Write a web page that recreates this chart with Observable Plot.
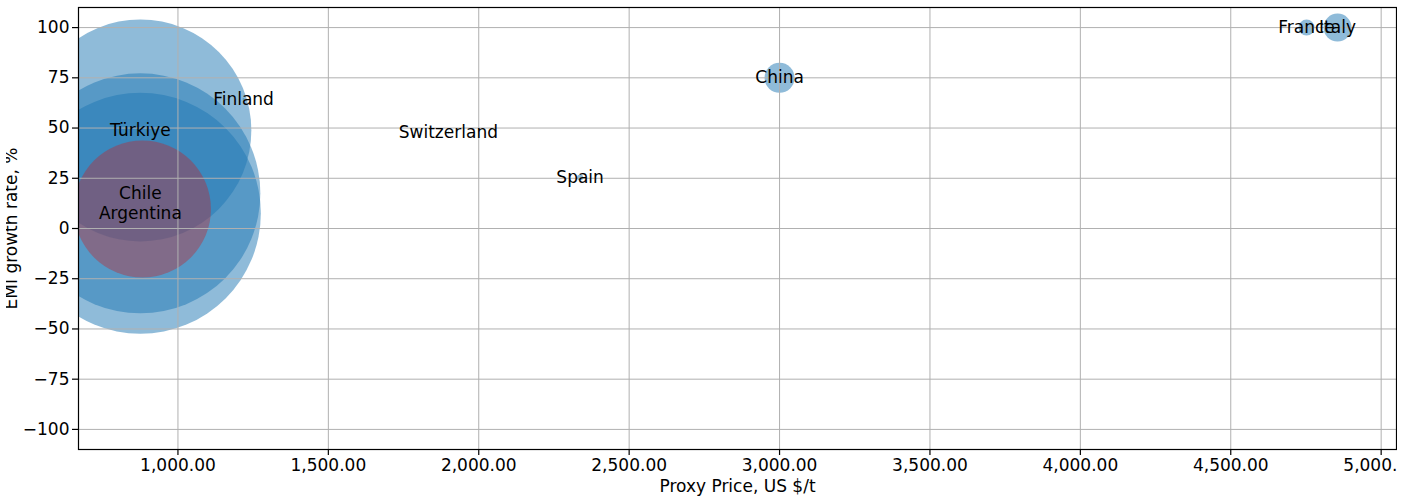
<!DOCTYPE html>
<html>
<head>
<meta charset="utf-8">
<script src="https://cdn.jsdelivr.net/npm/d3@7"></script>
<script src="https://cdn.jsdelivr.net/npm/@observablehq/plot@0.6"></script>
<style>
  html, body { margin: 0; padding: 0; background: white; }
  #chart { padding-left: 6px; }
  #chart svg { display: block; overflow: hidden; }
</style>
</head>
<body>
<div id="chart"></div>
<script>
// Data
const countries = ["Türkiye", "Chile", "Argentina", "Finland", "Switzerland", "Spain", "China", "France", "Italy"];
const prices    = [875, 875, 875, 1218, 1899, 2337, 3000, 4752, 4855];   // Proxy Price, US $/t
const growth    = [48.8, 17.5, 7.6, 64.4, 47.8, 25.4, 75, 100, 100];     // EMI growth rate, %
const volumes   = [12321, 14400, 14520, 1, 1, 9, 225, 64, 196];          // bubble size (area units)

// Highlighted (red) bubble
const highlightPrice  = [882];
const highlightGrowth = [9.7];
const highlightVolume = [4692];

const xTicks = [1000, 1500, 2000, 2500, 3000, 3500, 4000, 4500, 5000];
const yTicks = [-100, -75, -50, -25, 0, 25, 50, 75, 100];
const xLabel = "Proxy Price, US $/t";
const yLabel = "EMI growth rate, %";

const rows = countries.map((c, i) => ({country: c, price: prices[i], growth: growth[i], volume: volumes[i]}));
const highlight = highlightPrice.map((p, i) => ({price: p, growth: highlightGrowth[i], volume: highlightVolume[i]}));

const chart = Plot.plot({
  width: 1391,
  height: 497,
  marginLeft: 72,
  marginRight: 1,
  marginTop: 7,
  marginBottom: 48,
  style: {fontFamily: "DejaVu Sans", fontSize: "17px", background: "white", color: "black", overflow: "hidden"},
  x: {domain: [669.4, 5051]},
  y: {domain: [-110, 110]},
  r: {type: "sqrt", domain: [0, 14400], range: [0, 120]},
  marks: [
    Plot.dot(rows, {x: "price", y: "growth", r: "volume", fill: "#1f77b4", fillOpacity: 0.5, stroke: "none", clip: "frame"}),
    Plot.dot(highlight, {x: "price", y: "growth", r: "volume", fill: "#c0262e", fillOpacity: 0.4, stroke: "none", clip: "frame"}),
    Plot.gridX(xTicks, {stroke: "#b0b0b0", strokeOpacity: 1, strokeWidth: 1}),
    Plot.gridY(yTicks, {stroke: "#b0b0b0", strokeOpacity: 1, strokeWidth: 1}),
    Plot.frame({stroke: "black", strokeWidth: 1.2}),
    Plot.axisX(xTicks, {tickFormat: d3.format(",.2f"), tickSize: 6, tickPadding: 3, label: null, stroke: "black", strokeWidth: 1.2, fontSize: 17}),
    Plot.axisY(yTicks, {tickFormat: d3.format("d"), tickSize: 6, tickPadding: 3, label: null, stroke: "black", strokeWidth: 1.2, fontSize: 17}),
    Plot.text(rows, {x: "price", y: "growth", text: "country", fill: "black", fontSize: 17, textAnchor: "middle", lineAnchor: "middle"}),
    Plot.text([xLabel], {text: d => d, frameAnchor: "bottom", dy: 42, fontSize: 17, fill: "black"}),
    Plot.text([yLabel], {text: d => d, frameAnchor: "left", dx: -62, rotate: -90, fontSize: 17, fill: "black", textAnchor: "middle", lineAnchor: "bottom"})
  ]
});
document.getElementById("chart").appendChild(chart);
</script>
</body>
</html>
